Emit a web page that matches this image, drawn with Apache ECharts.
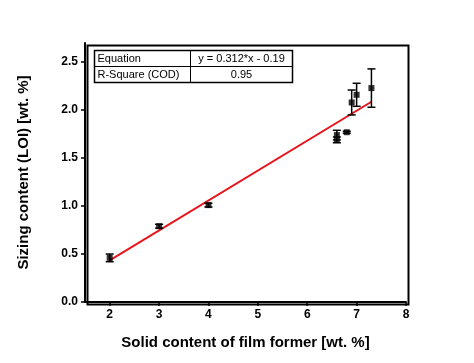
<!DOCTYPE html>
<html><head><meta charset="utf-8">
<script src="https://cdn.jsdelivr.net/npm/echarts@6/dist/echarts.min.js"></script>
<style>html,body{margin:0;padding:0;background:#fff}#c{width:474px;height:363px}</style>
</head><body><div id="c"></div>
<script>
var xVals = [2, 3, 4, 6.6, 6.6, 6.8, 6.9, 7.0, 7.3];
var yVals = [0.46, 0.79, 1.01, 1.69, 1.74, 1.77, 2.08, 2.16, 2.23];
var yErr  = [0.04, 0.02, 0.02, 0.03, 0.05, 0.01, 0.13, 0.12, 0.20];
var fitSlope = 0.312, fitIntercept = -0.19;
var fitRange = [2, 7.3];
var xTicks = [2, 3, 4, 5, 6, 7, 8];
var yTicks = [0.0, 0.5, 1.0, 1.5, 2.0, 2.5];

var pts = xVals.map(function(x, i){ return [x, yVals[i]]; });
var errs = xVals.map(function(x, i){ return [x, yVals[i] - yErr[i], yVals[i] + yErr[i]]; });
var fit = fitRange.map(function(x){ return [x, fitSlope * x + fitIntercept]; });

var chart = echarts.init(document.getElementById('c'));
var font = 'Liberation Sans, Arial, sans-serif';
chart.setOption({
  animation: false,
  grid: {left: 85, right: 68, top: 43, bottom: 61},
  xAxis: {
    type: 'value', min: 1.5, max: 8,
    axisLine: {show: true, lineStyle: {color: '#000', width: 2}},
    axisTick: {show: true, inside: false, length: 4, customValues: xTicks, lineStyle: {color: '#000', width: 1.5}},
    splitLine: {show: false},
    axisLabel: {color: '#000', fontWeight: 'bold', fontSize: 12, fontFamily: font, margin: 7, customValues: xTicks,
      formatter: function(v){ return String(v); }},
    name: 'Solid content of film former [wt. %]', nameLocation: 'middle', nameGap: 33,
    nameTextStyle: {color: '#000', fontWeight: 'bold', fontSize: 15, fontFamily: font}
  },
  yAxis: {
    type: 'value', min: 0, max: 2.7,
    axisLine: {show: true, lineStyle: {color: '#000', width: 2}},
    axisTick: {show: true, inside: false, length: 4, customValues: yTicks, lineStyle: {color: '#000', width: 1.5}},
    splitLine: {show: false},
    axisLabel: {color: '#000', fontWeight: 'bold', fontSize: 12, fontFamily: font, margin: 7, customValues: yTicks,
      formatter: function(v){ return v.toFixed(1); }},
    name: 'Sizing content (LOI) [wt. %]', nameLocation: 'middle', nameGap: 54,
    nameTextStyle: {color: '#000', fontWeight: 'bold', fontSize: 15, fontFamily: font}
  },
  graphic: [
    {type: 'rect', left: 85, top: 43, shape: {width: 321, height: 259}, style: {fill: 'none', stroke: '#000', lineWidth: 2}, silent: true},
    {type: 'group', left: 92, top: 48, children: [
      {type: 'rect', shape: {x: 0, y: 0, width: 198, height: 32}, style: {fill: '#fff', stroke: '#000', lineWidth: 1.5}},
      {type: 'line', shape: {x1: 0, y1: 16, x2: 198, y2: 16}, style: {stroke: '#000', lineWidth: 1}},
      {type: 'line', shape: {x1: 96, y1: 0, x2: 96, y2: 32}, style: {stroke: '#000', lineWidth: 1}},
      {type: 'text', x: 3, y: 8, style: {text: 'Equation', fill: '#000', font: '11px ' + font, textVerticalAlign: 'middle'}},
      {type: 'text', x: 3, y: 24, style: {text: 'R-Square (COD)', fill: '#000', font: '11px ' + font, textVerticalAlign: 'middle'}},
      {type: 'text', x: 147, y: 8, style: {text: 'y = 0.312*x - 0.19', fill: '#000', font: '11px ' + font, textAlign: 'center', textVerticalAlign: 'middle'}},
      {type: 'text', x: 147, y: 24, style: {text: '0.95', fill: '#000', font: '11px ' + font, textAlign: 'center', textVerticalAlign: 'middle'}}
    ]}
  ],
  series: [
    {type: 'line', data: fit, symbol: 'none', lineStyle: {color: '#e8141b', width: 2}, z: 3},
    {type: 'custom', data: errs, z: 4,
      renderItem: function(params, api){
        var x = api.value(0);
        var lo = api.coord([x, api.value(1)]);
        var hi = api.coord([x, api.value(2)]);
        var w = 4;
        return {type: 'group', children: [
          {type: 'line', shape: {x1: lo[0], y1: lo[1], x2: hi[0], y2: hi[1]}, style: {stroke: '#000', lineWidth: 1.5}},
          {type: 'line', shape: {x1: lo[0]-w, y1: lo[1], x2: lo[0]+w, y2: lo[1]}, style: {stroke: '#000', lineWidth: 1.5}},
          {type: 'line', shape: {x1: hi[0]-w, y1: hi[1], x2: hi[0]+w, y2: hi[1]}, style: {stroke: '#000', lineWidth: 1.5}}
        ]};
      }},
    {type: 'scatter', data: pts, symbol: 'rect', symbolSize: 6, itemStyle: {color: '#000'}, z: 5}
  ]
});
</script></body></html>
